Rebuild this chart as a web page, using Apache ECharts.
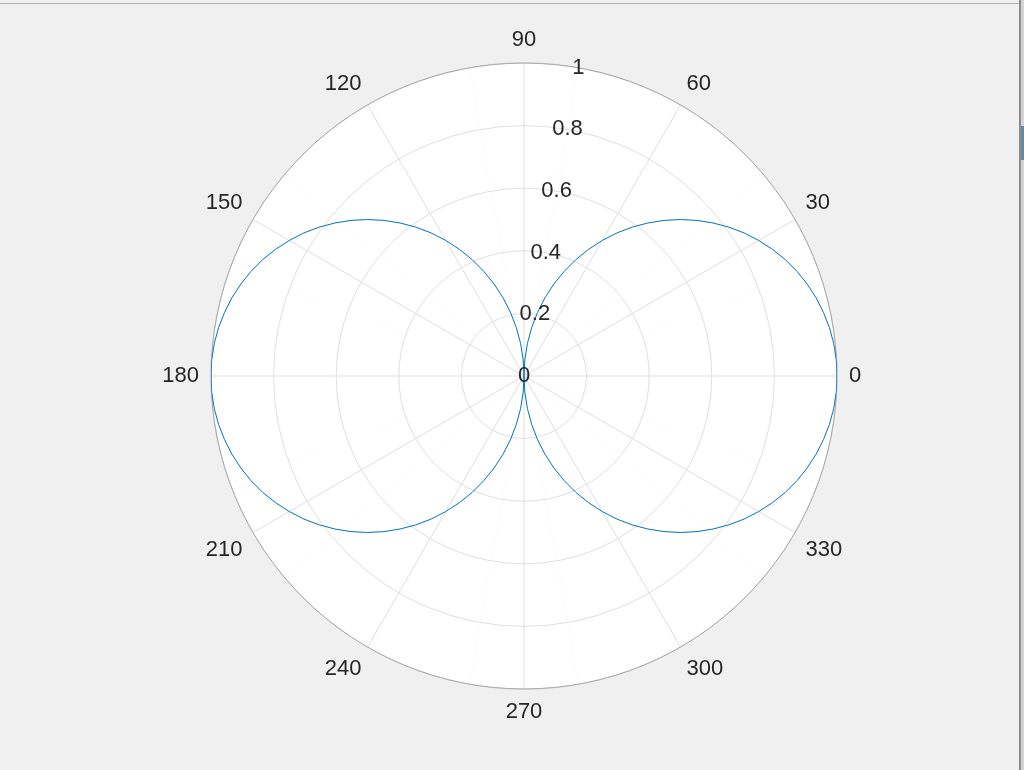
<!DOCTYPE html>
<html>
<head>
<meta charset="utf-8">
<script src="https://cdn.jsdelivr.net/npm/echarts@6/dist/echarts.min.js"></script>
<style>
html,body{margin:0;padding:0;background:#f0f0f0;}
#c{width:1024px;height:770px;}
</style>
</head>
<body>
<div id="c"></div>
<script>
// Angles (degrees) sampled along the curve
var thetaDeg = [
  0,3,6,9,12,15,18,21,24,27,30,33,36,39,42,45,48,51,54,57,60,63,66,69,72,75,78,81,84,87,90,
  93,96,99,102,105,108,111,114,117,120,123,126,129,132,135,138,141,144,147,150,153,156,159,162,165,168,171,174,177,180,
  183,186,189,192,195,198,201,204,207,210,213,216,219,222,225,228,231,234,237,240,243,246,249,252,255,258,261,264,267,270,
  273,276,279,282,285,288,291,294,297,300,303,306,309,312,315,318,321,324,327,330,333,336,339,342,345,348,351,354,357,360
];
// Radius values at each angle
var rValues = [
  1.000,0.999,0.995,0.988,0.978,0.966,0.951,0.934,0.914,0.891,0.866,0.839,0.809,0.777,0.743,0.707,0.669,0.629,0.588,0.545,0.500,0.454,0.407,0.358,0.309,0.259,0.208,0.156,0.105,0.052,0.000,
  0.052,0.105,0.156,0.208,0.259,0.309,0.358,0.407,0.454,0.500,0.545,0.588,0.629,0.669,0.707,0.743,0.777,0.809,0.839,0.866,0.891,0.914,0.934,0.951,0.966,0.978,0.988,0.995,0.999,1.000,
  0.999,0.995,0.988,0.978,0.966,0.951,0.934,0.914,0.891,0.866,0.839,0.809,0.777,0.743,0.707,0.669,0.629,0.588,0.545,0.500,0.454,0.407,0.358,0.309,0.259,0.208,0.156,0.105,0.052,0.000,
  0.052,0.105,0.156,0.208,0.259,0.309,0.358,0.407,0.454,0.500,0.545,0.588,0.629,0.669,0.707,0.743,0.777,0.809,0.839,0.866,0.891,0.914,0.934,0.951,0.966,0.978,0.988,0.995,0.999,1.000
];
var angleTicks = [0,30,60,90,120,150,180,210,240,270,300,330];
var radiusTicks = [0,0.2,0.4,0.6,0.8,1];

var data = thetaDeg.map(function(t,i){ return [rValues[i], t]; });
var font = 'Liberation Sans, Arial, Helvetica, sans-serif';

var chart = echarts.init(document.getElementById('c'));
chart.setOption({
  backgroundColor: '#f0f0f0',
  animation: false,
  polar: [
    {center: [524, 376], radius: 313},
    {center: [524, 376], radius: 313}
  ],
  angleAxis: [
    {
      polarIndex: 0, type: 'value', min: 0, max: 360, interval: 30,
      startAngle: 0, clockwise: false, z: 2,
      axisLine: {lineStyle: {color: '#a6a6a6', width: 1}},
      axisTick: {show: false},
      axisLabel: {
        margin: 12, fontSize: 22, color: '#262626', fontFamily: font,
        formatter: function(v){ return angleTicks.indexOf(v) >= 0 ? String(v) : ''; }
      },
      splitLine: {show: true, lineStyle: {color: '#dfdfdf', width: 1}}
    },
    {
      polarIndex: 1, type: 'value', min: 0, max: 360, interval: 20, startAngle: 80, clockwise: false, z: 0,
      axisLine: {show: false}, axisTick: {show: false}, axisLabel: {show: false},
      splitLine: {show: false},
      splitArea: {show: true, areaStyle: {color: ['#ffffff', '#ffffff']}}
    }
  ],
  radiusAxis: [
    {
      polarIndex: 0, type: 'value', min: 0, max: 1, interval: 0.2, z: 2,
      axisLine: {show: false}, axisTick: {show: false}, axisLabel: {show: false},
      splitLine: {show: true, lineStyle: {color: '#dfdfdf', width: 1}}
    },
    {
      polarIndex: 1, type: 'value', min: 0, max: 1, interval: 0.2, z: 10,
      axisLine: {show: false}, axisTick: {show: false},
      splitLine: {show: false},
      axisLabel: {
        margin: 0, fontSize: 22, color: '#262626', fontFamily: font,
        align: 'center', verticalAlign: 'middle',
        formatter: function(v){ var s = radiusTicks.filter(function(t){return Math.abs(t-v)<1e-9;}); return s.length ? String(s[0]) : ''; }
      }
    }
  ],
  graphic: [
    {type: 'rect', shape: {x: 0, y: 3, width: 1024, height: 1}, style: {fill: '#b4b4b4'}, silent: true},
    {type: 'rect', shape: {x: 1019, y: 0, width: 2, height: 770}, style: {fill: '#8c8c8c'}, silent: true},
    {type: 'rect', shape: {x: 1021, y: 0, width: 3, height: 770}, style: {fill: '#d4d4d4'}, silent: true},
    {type: 'rect', shape: {x: 1021, y: 126, width: 3, height: 34}, style: {fill: '#6d87a3'}, silent: true}
  ],
  series: [{
    type: 'line', coordinateSystem: 'polar', polarIndex: 0,
    data: data, showSymbol: false, symbol: 'none',
    lineStyle: {color: '#0072bd', width: 1}, z: 3
  }]
});
</script>
</body>
</html>
